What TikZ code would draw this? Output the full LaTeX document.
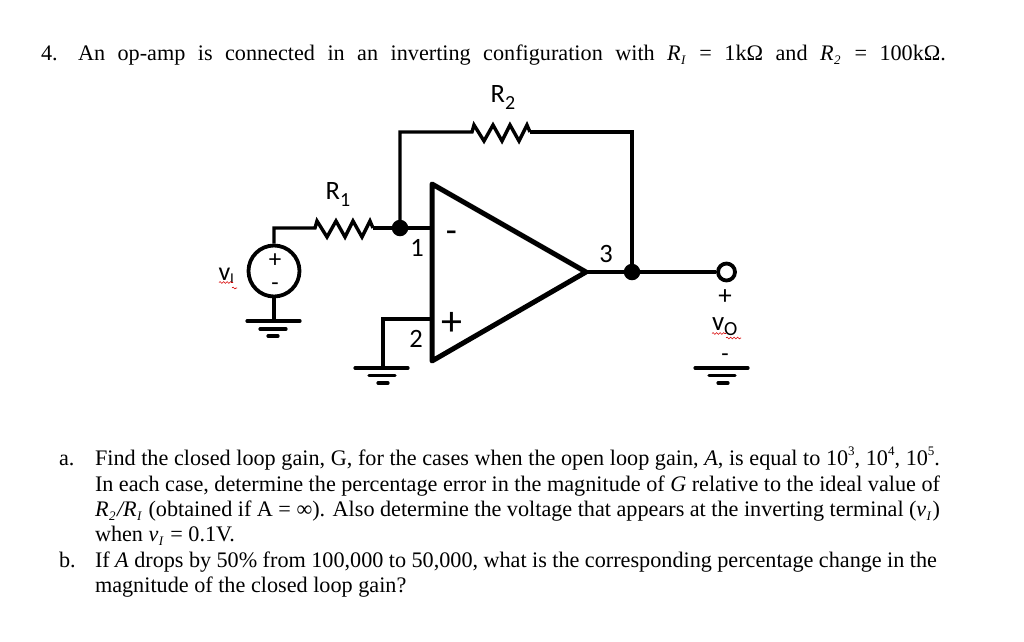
\documentclass[tikz,border=0pt]{standalone}
\usepackage{fontspec}
\setmainfont{Liberation Serif}
\newfontfamily\calf{Carlito}
\usetikzlibrary{decorations.pathmorphing}
\newcommand{\twx}[1]{\textit{#1}}
\newcommand{\sbs}[1]{\kern.02em\raisebox{-0.2em}{\fontsize{13}{13}\selectfont #1}\kern.07em}
\newcommand{\sps}[1]{\raisebox{0.42em}{\fontsize{13}{13}\selectfont #1}}
\newcommand{\resist}{-- ++(2,-7) -- ++(10,16) -- ++(9,-16) -- ++(9,16) -- ++(8,-16) -- ++(9,16) -- ++(8,-16) -- ++(3,7)}
\tikzset{
  x=1pt,y=-1pt,
  wire/.style={draw=black,line width=3.4pt,line join=miter,line cap=butt},
  opamp/.style={draw=black,line width=5pt,line join=round},
  gnd/.style={draw=black,line width=3.2pt,line cap=round},
  body/.style={inner sep=0pt,outer sep=0pt,anchor=base west,font=\fontsize{22.2}{25}\selectfont},
  lab/.style={inner sep=0pt,outer sep=0pt,font=\calf\fontsize{26.5}{28}\selectfont},
  sym/.style={inner sep=0pt,outer sep=0pt},
  dot/.style={circle,fill=black,minimum size=16.5pt,inner sep=0pt},
  ring/.style={circle,draw=black,line width=3.8pt,inner sep=0pt,fill=white},
  squig/.style={draw=red!85!black,line width=.6pt,decorate,decoration={snake,amplitude=.9pt,segment length=3.5pt}}
}
\begin{document}
\begin{tikzpicture}
\useasboundingbox (0,0) rectangle (1024,641);
\fill[white] (0,0) rectangle (1024,641);
% coordinates
\coordinate (corner1) at (274,228);
\coordinate (r1a) at (315,228);
\coordinate (r1b) at (373,228);
\coordinate (fbc) at (400,132);
\coordinate (r2a) at (472,132);
\coordinate (r2b) at (530,132);
\coordinate (fbd) at (632,132);
\coordinate (g1) at (274,321);
\coordinate (g2t) at (383,319);
\coordinate (g2) at (383,368);
\coordinate (ninv) at (431,319);
\coordinate (inv) at (431,228);
\coordinate (oa1) at (432,184);
\coordinate (oa2) at (432,361);
\coordinate (oa3) at (586,272);
% nodes
\node[ring,minimum size=51pt] (src) at (274,271) {};
\node[dot] (n1) at (400,228) {};
\node[dot] (n2) at (632,272) {};
\node[ring,minimum size=17pt] (vo) at (726.5,272) {};
% wires
\draw[wire] (src.north) -- (corner1) -- (r1a) \resist;
\draw[wire] (r1b) -- (inv);
\draw[wire] (n1.center) -- (fbc) -- (r2a) \resist;
\draw[wire] (r2b) -- (fbd) -- (n2.center);
\draw[wire] (oa3) -- (vo.west);
\draw[wire] (src.south) -- (g1);
\draw[wire] (ninv) -- (g2t) -- (g2);
% opamp
\draw[opamp] (oa1) -- (oa3) -- (oa2) -- cycle;
% source marks
\node[sym,font=\calf\fontsize{25}{25}\selectfont] (sp) at (275,261) {+};
\node[sym,font=\calf\fontsize{24}{24}\selectfont] (sm) at (275,287) {-};
% grounds
\draw[gnd] (247,321) -- (300,321) (260,329) -- (286,329) (268,336) -- (278,336);
\draw[gnd] (355,368) -- (408,368) (369,375.5) -- (395,375.5) (378,383) -- (388,383);
\draw[gnd] (695,368) -- (748,368) (709,375.5) -- (735,375.5) (718,383) -- (728,383);
% labels
\node[lab] (R2) at (503,97.5) {R\raisebox{-.25em}{\fontsize{20}{20}\selectfont 2}};
\node[lab] (R1) at (338,194.5) {R\raisebox{-.25em}{\fontsize{20}{20}\selectfont 1}};
\node[lab] (l1) at (417,247.5) {1};
\node[lab] (l2) at (416,338.5) {2};
\node[lab] (l3) at (606,254) {3};
\node[sym,font=\calf\fontsize{36}{36}\selectfont] (mn) at (451.5,236.5) {-};
\node[sym,font=\calf\fontsize{42}{42}\selectfont] (pl) at (451.5,323.5) {+};
\node[sym,font=\calf\fontsize{27}{27}\selectfont] (op) at (725,297) {+};
\node[sym,font=\calf\fontsize{24}{24}\selectfont] (om) at (725,358) {-};
\node[sym,anchor=base west,font=\calf\fontsize{26}{26}\selectfont] (vi) at (218.5,280) {v\raisebox{-.15em}{\fontsize{15}{15}\selectfont I}};
\node[sym,anchor=base west,font=\calf\fontsize{27}{27}\selectfont] (vo2) at (712,330) {v\raisebox{-.22em}{\fontsize{20}{20}\selectfont O}};
\draw[squig] (219,282.5) -- (233,282.5);
\draw[squig] (232,288) -- (237,288);
\draw[squig] (712,333.5) -- (726,333.5);
\draw[squig] (726,338) -- (741,338);
% text
\node[body] (t0) at (41,60) {4.};
\node[body] (t1) at (78,60) {\makebox[868pt][s]{An op-amp is connected in an inverting configuration with \twx{R\sbs{I}} = 1kΩ and \twx{R\sbs{2}} = 100kΩ.}};
\node[body] (ta) at (59,465) {a.};
\node[body] (ta1) at (95,465) {\makebox[845pt][s]{Find the closed loop gain, G, for the cases when the open loop gain, \twx{A}, is equal to 10\sps{3}, 10\sps{4}, 10\sps{5}.}};
\node[body] (ta2) at (95,491) {\makebox[845pt][s]{In each case, determine the percentage error in the magnitude of \twx{G} relative to the ideal value of}};
\node[body] (ta3) at (95,516) {\makebox[845pt][s]{\twx{R\sbs{2}/R\sbs{I}} (obtained if A = ∞). Also determine the voltage that appears at the inverting terminal (\twx{v\sbs{I}})}};
\node[body] (ta4) at (95,541) {when \twx{v\sbs{I}} = 0.1V.};
\node[body] (tb) at (59,567) {b.};
\node[body] (tb1) at (95,567) {\makebox[842pt][s]{If \twx{A} drops by 50\% from 100,000 to 50,000, what is the corresponding percentage change in the}};
\node[body] (tb2) at (95,592) {magnitude of the closed loop gain?};
\end{tikzpicture}
\end{document}
